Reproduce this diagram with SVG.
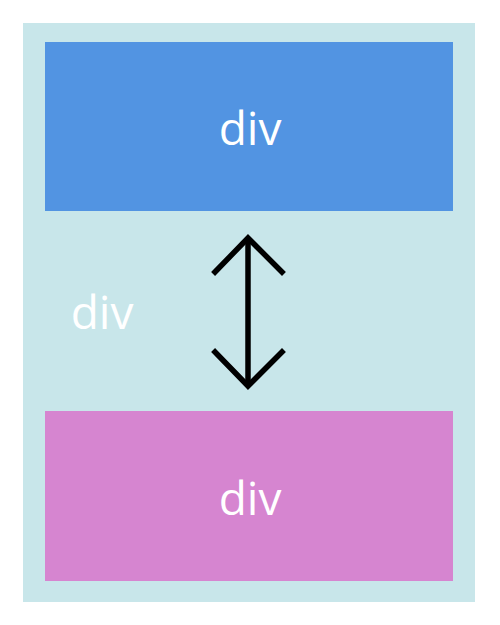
<svg xmlns="http://www.w3.org/2000/svg" width="500" height="625" viewBox="0 0 500 625">
<style>
.t{font-family:"Open Sans","Noto Sans",sans-serif;font-size:46px;fill:#ffffff;text-anchor:middle}
.a{fill:none;stroke:#000;stroke-width:5.5;stroke-linecap:square;stroke-linejoin:miter}
</style>
<rect width="500" height="625" fill="#ffffff"/>
<g id="outer">
<rect x="23" y="23" width="452" height="579" fill="#C8E6EA"/>
<text class="t" x="102" y="329">div</text>
</g>
<g id="top">
<rect x="45" y="42" width="408" height="169" fill="#5294E2"/>
<text class="t" x="250" y="145">div</text>
</g>
<g id="bottom">
<rect x="45" y="411" width="408" height="170" fill="#D685D0"/>
<text class="t" x="250" y="515">div</text>
</g>
<g id="connectors">
<line class="a" x1="248" y1="240" x2="248" y2="384"/>
<polyline class="a" points="215,272 248,238 282,272"/>
<polyline class="a" points="215,352 248,386 282,352"/>
</g>
</svg>
